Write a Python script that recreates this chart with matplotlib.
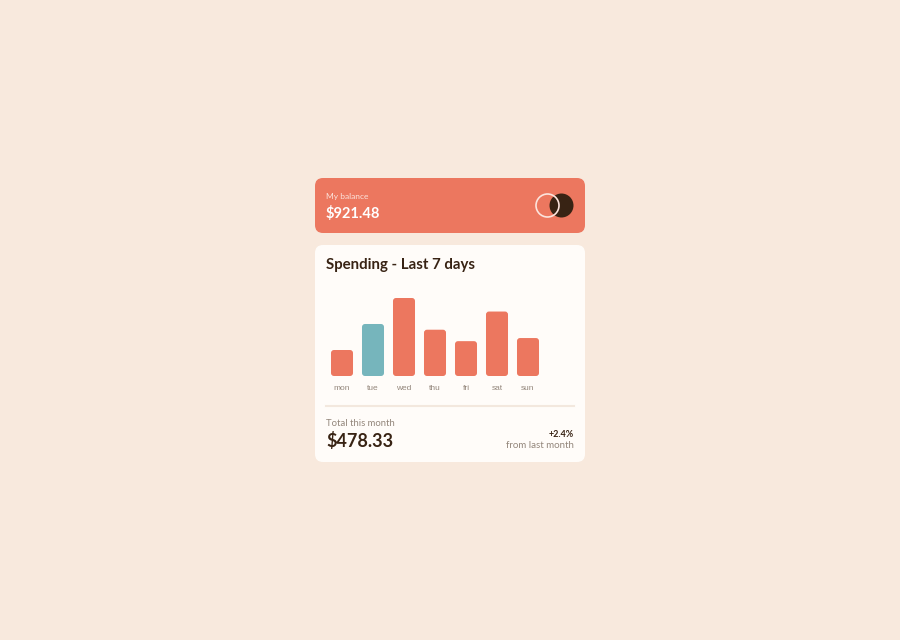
import matplotlib
matplotlib.use("Agg")
import matplotlib.pyplot as plt
from matplotlib.patches import FancyBboxPatch, Circle

# Data
days = ["mon", "tue", "wed", "thu", "fri", "sat", "sun"]
amounts = [17.45, 34.91, 52.36, 31.07, 23.39, 43.28, 25.48]
highlight = "tue"
balance = "$921.48"
total_month = "$478.33"
change = "+2.4%"

# Colours
bg = "#F8E9DD"
red = "#EC775F"
cyan = "#76B5BC"
dark = "#382314"
brown = "#93867B"
card = "#FFFCF9"

plt.rcParams['font.family'] = ['Lato', 'DejaVu Sans']

fig = plt.figure(figsize=(9, 6.4), dpi=100)
fig.patch.set_facecolor(bg)

# pixel-coordinate canvas for the cards
ax = fig.add_axes([0, 0, 1, 1])
ax.set_xlim(0, 900)
ax.set_ylim(640, 0)
ax.axis('off')

# balance card
ax.add_patch(FancyBboxPatch((315, 178), 270, 55, boxstyle="round,pad=0,rounding_size=8",
                            fc=red, ec='none'))
ax.text(326, 196.5, "My balance", color="#FCE3DC", fontsize=6, va='center')
ax.text(326, 213.5, balance, color="white", fontsize=10.5, fontweight='bold', va='center')
ax.add_patch(Circle((561.5, 205.5), 12, fc=dark, ec='none'))
ax.add_patch(Circle((547.5, 205.5), 11.5, fc='none', ec="#FCE3DC", lw=1.2))

# spending card
ax.add_patch(FancyBboxPatch((315, 245), 270, 217, boxstyle="round,pad=0,rounding_size=8",
                            fc=card, ec='none'))
ax.text(326, 265.5, "Spending - Last 7 days", color=dark, fontsize=10.8,
        fontweight='bold', va='center')
ax.plot([326, 574], [406, 406], color="#F3E8DE", lw=1.5)
ax.text(326, 424, "Total this month", color=brown, fontsize=6.8, va='center')
ax.text(326, 441, total_month, color=dark, fontsize=13, fontweight='bold', va='center')
ax.text(574, 434.5, change, color=dark, fontsize=6.5, fontweight='bold', va='center', ha='right')
ax.text(574, 446, "from last month", color=brown, fontsize=7, va='center', ha='right')

# bar chart axes: x 326.5..543.5 px, y 290..376 px
W, H = 900, 640
bax = fig.add_axes([326.5 / W, 1 - 376 / H, 217 / W, 86 / H])
bax.set_xlim(-0.5, 6.5)
ymax = max(amounts) * 86 / 78
bax.set_ylim(0, ymax)
bax.patch.set_alpha(0)
for s in bax.spines.values():
    s.set_visible(False)
bax.set_yticks([])

colors = [cyan if d == highlight else red for d in days]
bars = bax.bar(range(len(days)), amounts, width=0.71, color=colors)

# swap bars for rounded ones
px_x = 217 / 7
px_y = 86 / ymax
r = 3 / px_x
for b, c in zip(bars, colors):
    b.set_visible(False)
    bax.add_patch(FancyBboxPatch((b.get_x(), 0), b.get_width(), b.get_height(),
                                 boxstyle=f"round,pad=0,rounding_size={r}",
                                 mutation_aspect=px_x / px_y, fc=c, ec='none'))

bax.set_xticks(range(len(days)))
bax.set_xticklabels(days, fontsize=6, color=brown, family=['Liberation Sans', 'DejaVu Sans'])
bax.tick_params(axis='x', length=0, pad=6.5)

fig.savefig("out.png", dpi=100, facecolor=bg)
